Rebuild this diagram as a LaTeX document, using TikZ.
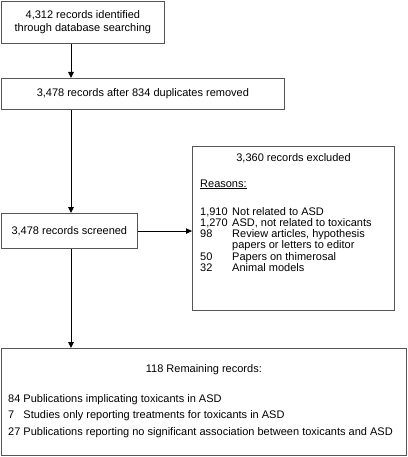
\documentclass[tikz,border=0pt]{standalone}
\usepackage{fontspec}
\setmainfont{Liberation Sans}
\usepackage{tikz}
\usetikzlibrary{arrows.meta,positioning}
\definecolor{bordergray}{HTML}{555555}

\begin{document}
\begin{tikzpicture}[x=1pt,y=-1pt,
    box/.style={draw=bordergray, line width=1.1pt, inner sep=0pt,
                anchor=north west, align=center,
                font=\fontsize{11}{13.5}\selectfont},
    txt/.style={inner sep=0pt, font=\fontsize{11}{11}\selectfont},
    arr/.style={-{Triangle[length=6pt,width=5.5pt]}, line width=0.9pt}]

  \useasboundingbox (0,0) rectangle (407,457);

  % ----- caixas do fluxo -----
  \node[box, minimum width=163pt, minimum height=42pt] (ident) at (0.8,0.8)
    {4,312 records identified\\through database searching};
  \node[box, minimum width=283pt, minimum height=31pt] (dupl) at (0.8,78)
    {3,478 records after 834 duplicates removed};
  \node[box, minimum width=136pt, minimum height=35pt] (screen) at (0.8,213)
    {3,478 records screened};
  \node[box, minimum width=202pt, minimum height=164pt] (excl) at (192,146) {};
  \node[box, minimum width=405pt, minimum height=107pt] (remain) at (0.8,348) {};

  % ----- texto dos excluídos -----
  \node[txt, anchor=base] (exclhead) at (excl.north |- 0,161) {3,360 records excluded};
  \node[txt, anchor=base west] (reasons) at (200,187) {\underline{Reasons:}};
  \node[txt, anchor=base west] (reasonlist) at (200,215) {%
    \begin{tabular}[t]{@{}p{32pt}@{}l@{}}
      1,910 & Not related to ASD\\
      1,270 & ASD, not related to toxicants\\
      98    & Review articles, hypothesis\\
            & papers or letters to editor\\
      50    & Papers on thimerosal\\
      32    & Animal models
    \end{tabular}};

  % ----- texto dos restantes -----
  \node[txt, anchor=base] (remainhead) at (remain.north |- 0,372) {118 Remaining records:};
  \node[txt, anchor=base west] (remainlist) at (8,402) {%
    \renewcommand{\arraystretch}{1.5}%
    \begin{tabular}[t]{@{}l@{\ }l@{}}
      84 & Publications implicating toxicants in ASD\\
      7  & Studies only reporting treatments for toxicants in ASD\\
      27 & Publications reporting no significant association between toxicants and ASD
    \end{tabular}};

  % ----- setas -----
  \coordinate (spine) at (71,0);
  \draw[arr] (ident.south -| spine) -- (dupl.north -| spine);
  \draw[arr] (dupl.south -| spine) -- (screen.north -| spine);
  \draw[arr] (screen.south -| spine) -- (remain.north -| spine);
  \draw[arr] (screen.east) -- (screen.east -| excl.west);

\end{tikzpicture}
\end{document}
